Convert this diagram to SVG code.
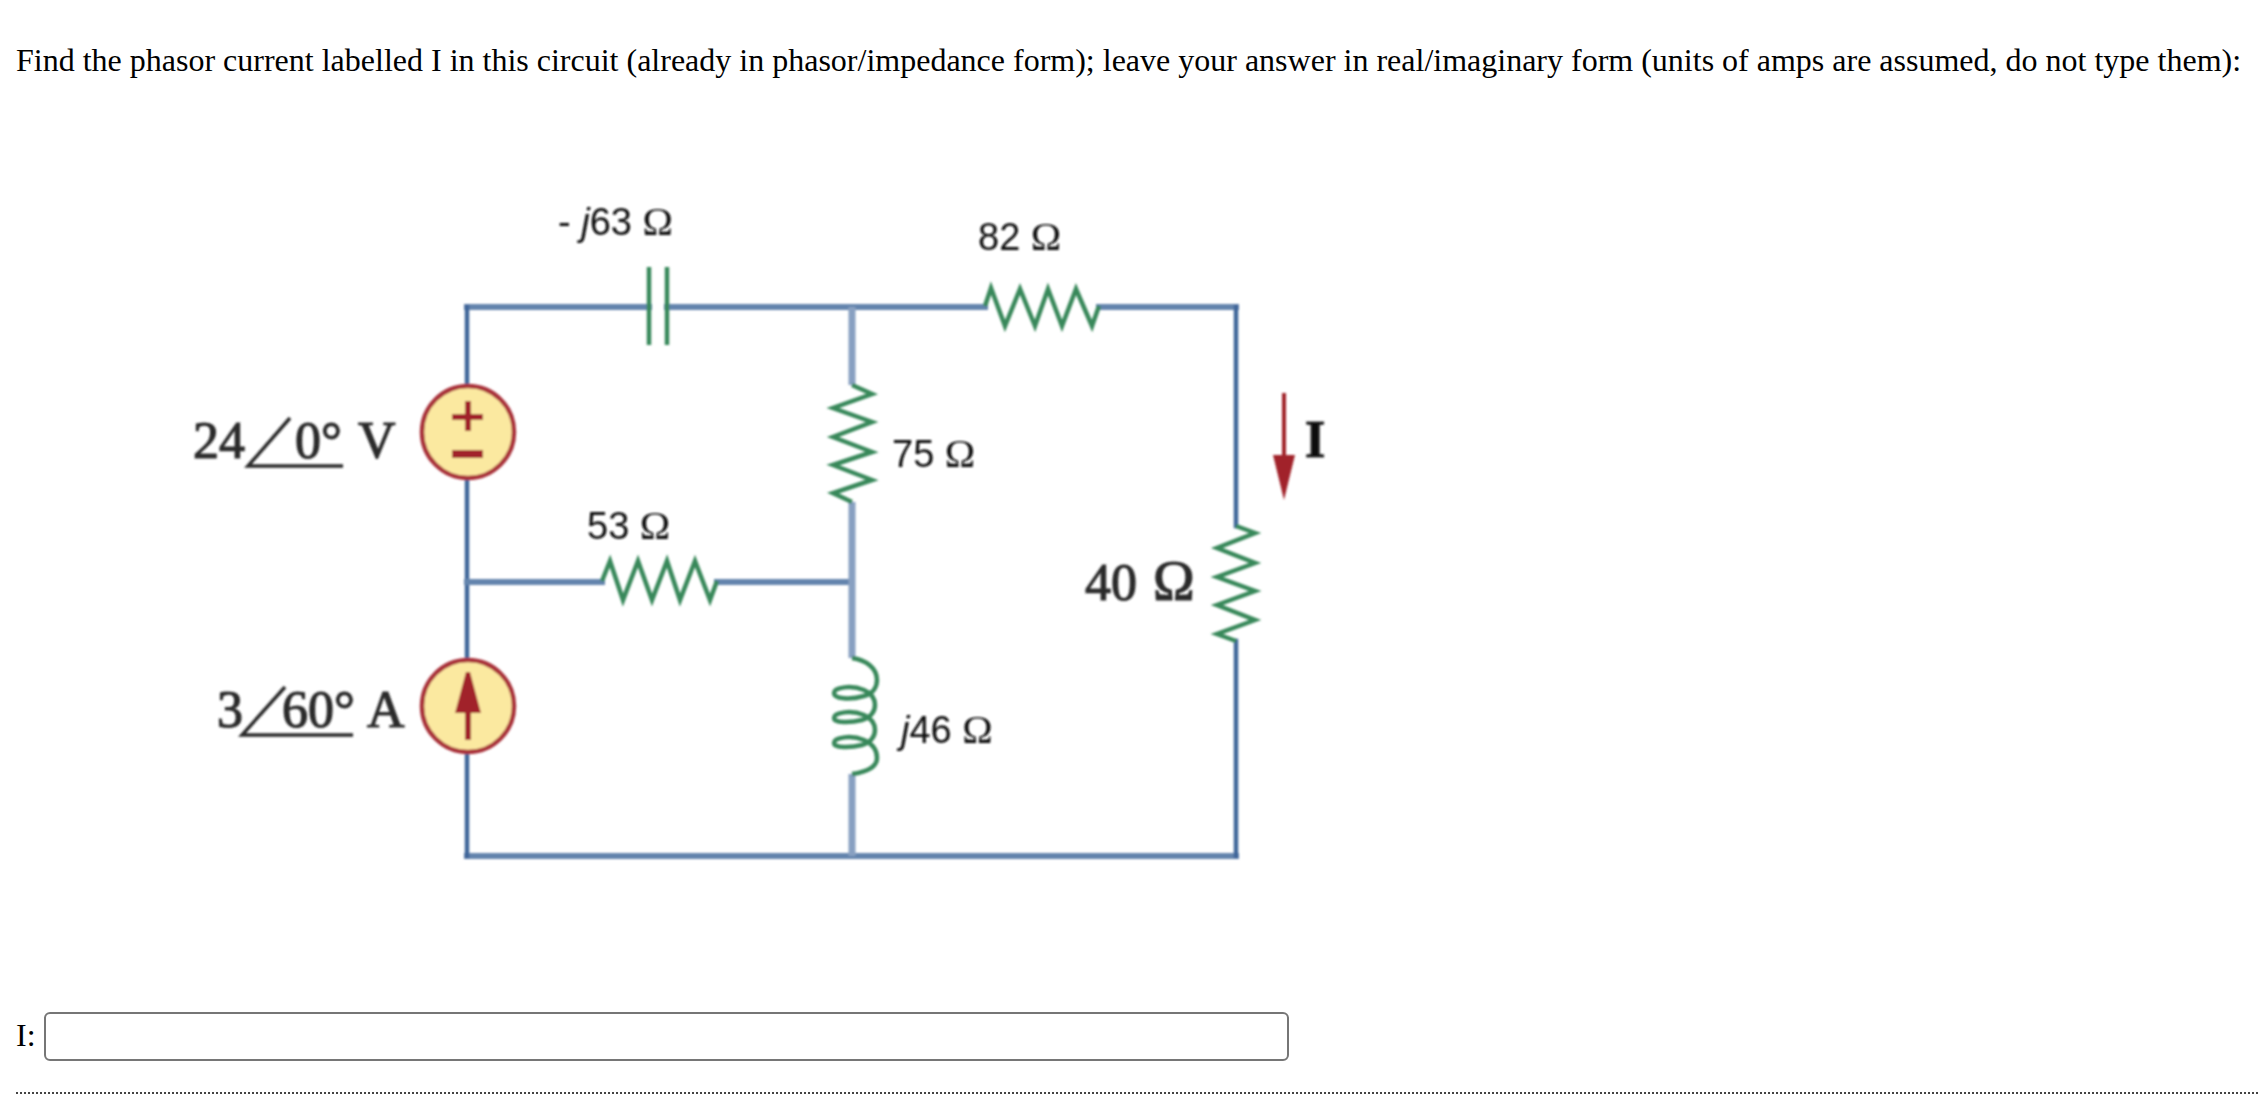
<svg xmlns="http://www.w3.org/2000/svg" width="2260" height="1102" viewBox="0 0 2260 1102">
<style>
.page{font-family:"Liberation Serif","Times New Roman",serif;font-size:32px;fill:#000}
.sans{font-family:"Liberation Sans",Arial,sans-serif;font-size:38px;fill:#111}
.om{font-family:"Liberation Serif",serif;font-size:41px;fill:#111}
.it{font-style:italic}
.ser{font-family:"Liberation Serif",serif;font-size:52px;fill:#2a2a2a;stroke:#2a2a2a;stroke-width:1.2}
.wire{fill:none;stroke:#6484ad;stroke-width:6;stroke-linecap:square;stroke-linejoin:miter}
.thin{fill:none;stroke:#40669a;stroke-width:4.5;stroke-linecap:square;stroke-linejoin:miter}
.fat{fill:none;stroke:#88a0c1;stroke-width:7}
.comp{fill:none;stroke:#38885a;stroke-width:4.5;stroke-linejoin:miter}
.src{fill:#fbe9a0;stroke:#a9323a;stroke-width:4.5}
.red{fill:#a1242c;stroke:none}
.ang{fill:none;stroke:#2a2a2a;stroke-width:3.5}
</style>
<defs><filter id="soft" x="-5%" y="-5%" width="110%" height="110%"><feGaussianBlur stdDeviation="0.9"/></filter></defs>
<rect width="2260" height="1102" fill="#fff"/>
<text class="page" x="16" y="71">Find the phasor current labelled I in this circuit (already in phasor/impedance form); leave your answer in real/imaginary form (units of amps are assumed, do not type them):</text>
<g filter="url(#soft)">
<g id="connectors">
<path class="wire" d="M467 307H649M667 307H985M1099 307H1236"/>
<path class="wire" d="M467 856H1236"/>
<path class="thin" d="M467 307V385M467 478V659M467 753V856M1236 307V526M1236 641V856"/>
<path class="wire" d="M467 582H602M717 582H852"/>
<path class="fat" d="M852 307V385M852 502V658M852 774V856"/>
</g>
<g id="source-v">
<circle class="src" cx="468" cy="432" r="46"/>
<path class="red" d="M452 414H465V401H471V414H483V420H471V431H465V420H452Z"/>
<rect class="red" x="452" y="450" width="31" height="8"/>
<text class="ser" x="193" y="458">24</text>
<path class="ang" d="M290 418L248 466H343"/>
<text class="ser" x="295" y="458">0°</text>
<text class="ser" x="358" y="458">V</text>
</g>
<g id="source-i">
<circle class="src" cx="468" cy="706" r="46"/>
<path class="red" d="M466 672H470L481 713H471V740H465V713H455Z"/>
<text class="ser" x="217" y="727">3</text>
<path class="ang" d="M285 687L242 735H353"/>
<text class="ser" x="282" y="727">60°</text>
<text class="ser" x="367" y="727">A</text>
</g>
<g id="capacitor">
<path class="comp" d="M649 267V345M667 267V345"/>
<text class="sans" x="558" y="235">- <tspan class="it">j</tspan>63 <tspan class="om">Ω</tspan></text>
</g>
<g id="r82">
<path class="comp" d="M985 306L991 288L1005 326L1020 289L1035 326L1048 289L1062 326L1076 289L1092 326L1099 306"/>
<text class="sans" x="978" y="250">82 <tspan class="om">Ω</tspan></text>
</g>
<g id="r75">
<path class="comp" d="M852 385L872 394L833 408L872 422L833 437L872 452L833 465L872 480L833 493L852 502"/>
<text class="sans" x="892" y="467">75 <tspan class="om">Ω</tspan></text>
</g>
<g id="r53">
<path class="comp" d="M602 581L610 561L623 600L638 561L652 600L667 561L680 600L695 561L710 600L717 581"/>
<text class="sans" x="587" y="539">53 <tspan class="om">Ω</tspan></text>
</g>
<g id="inductor">
<path class="comp" d="M852 658C866 660 877 668 877 680C877 688 872 694 864 696C850 700 834 699 834 693C834 687 852 685 864 690C873 694 875 700 875 705C875 712 870 718 862 720C850 723 834 723 834 718C834 712 852 710 864 715C873 719 875 725 875 730C875 737 870 743 862 745C850 748 834 748 834 743C834 737 852 735 864 740C873 744 877 750 877 758C877 768 866 772 852 774"/>
<text class="sans" x="901" y="743"><tspan class="it">j</tspan>46 <tspan class="om">Ω</tspan></text>
</g>
<g id="r40">
<path class="comp" d="M1236 526L1255 533L1217 548L1255 563L1217 577L1255 591L1217 605L1255 620L1217 634L1236 641"/>
<text class="ser" x="1085" y="600">40</text>
<text class="ser" style="font-size:56px" x="1153" y="600">Ω</text>
</g>
<g id="current-arrow">
<path class="red" d="M1282 393H1286V455H1295L1284 500L1273 455H1282Z"/>
<text class="ser" style="font-weight:bold;fill:#111" x="1305" y="457">I</text>
</g>
</g>
<g id="answer">
<text class="page" x="16" y="1046">I:</text>
<rect x="45" y="1013" width="1243" height="47" rx="5" fill="#fff" stroke="#767676" stroke-width="2"/>
<path d="M16 1093H2260" stroke="#444" stroke-width="2" stroke-dasharray="2 2" fill="none"/>
</g>
</svg>
